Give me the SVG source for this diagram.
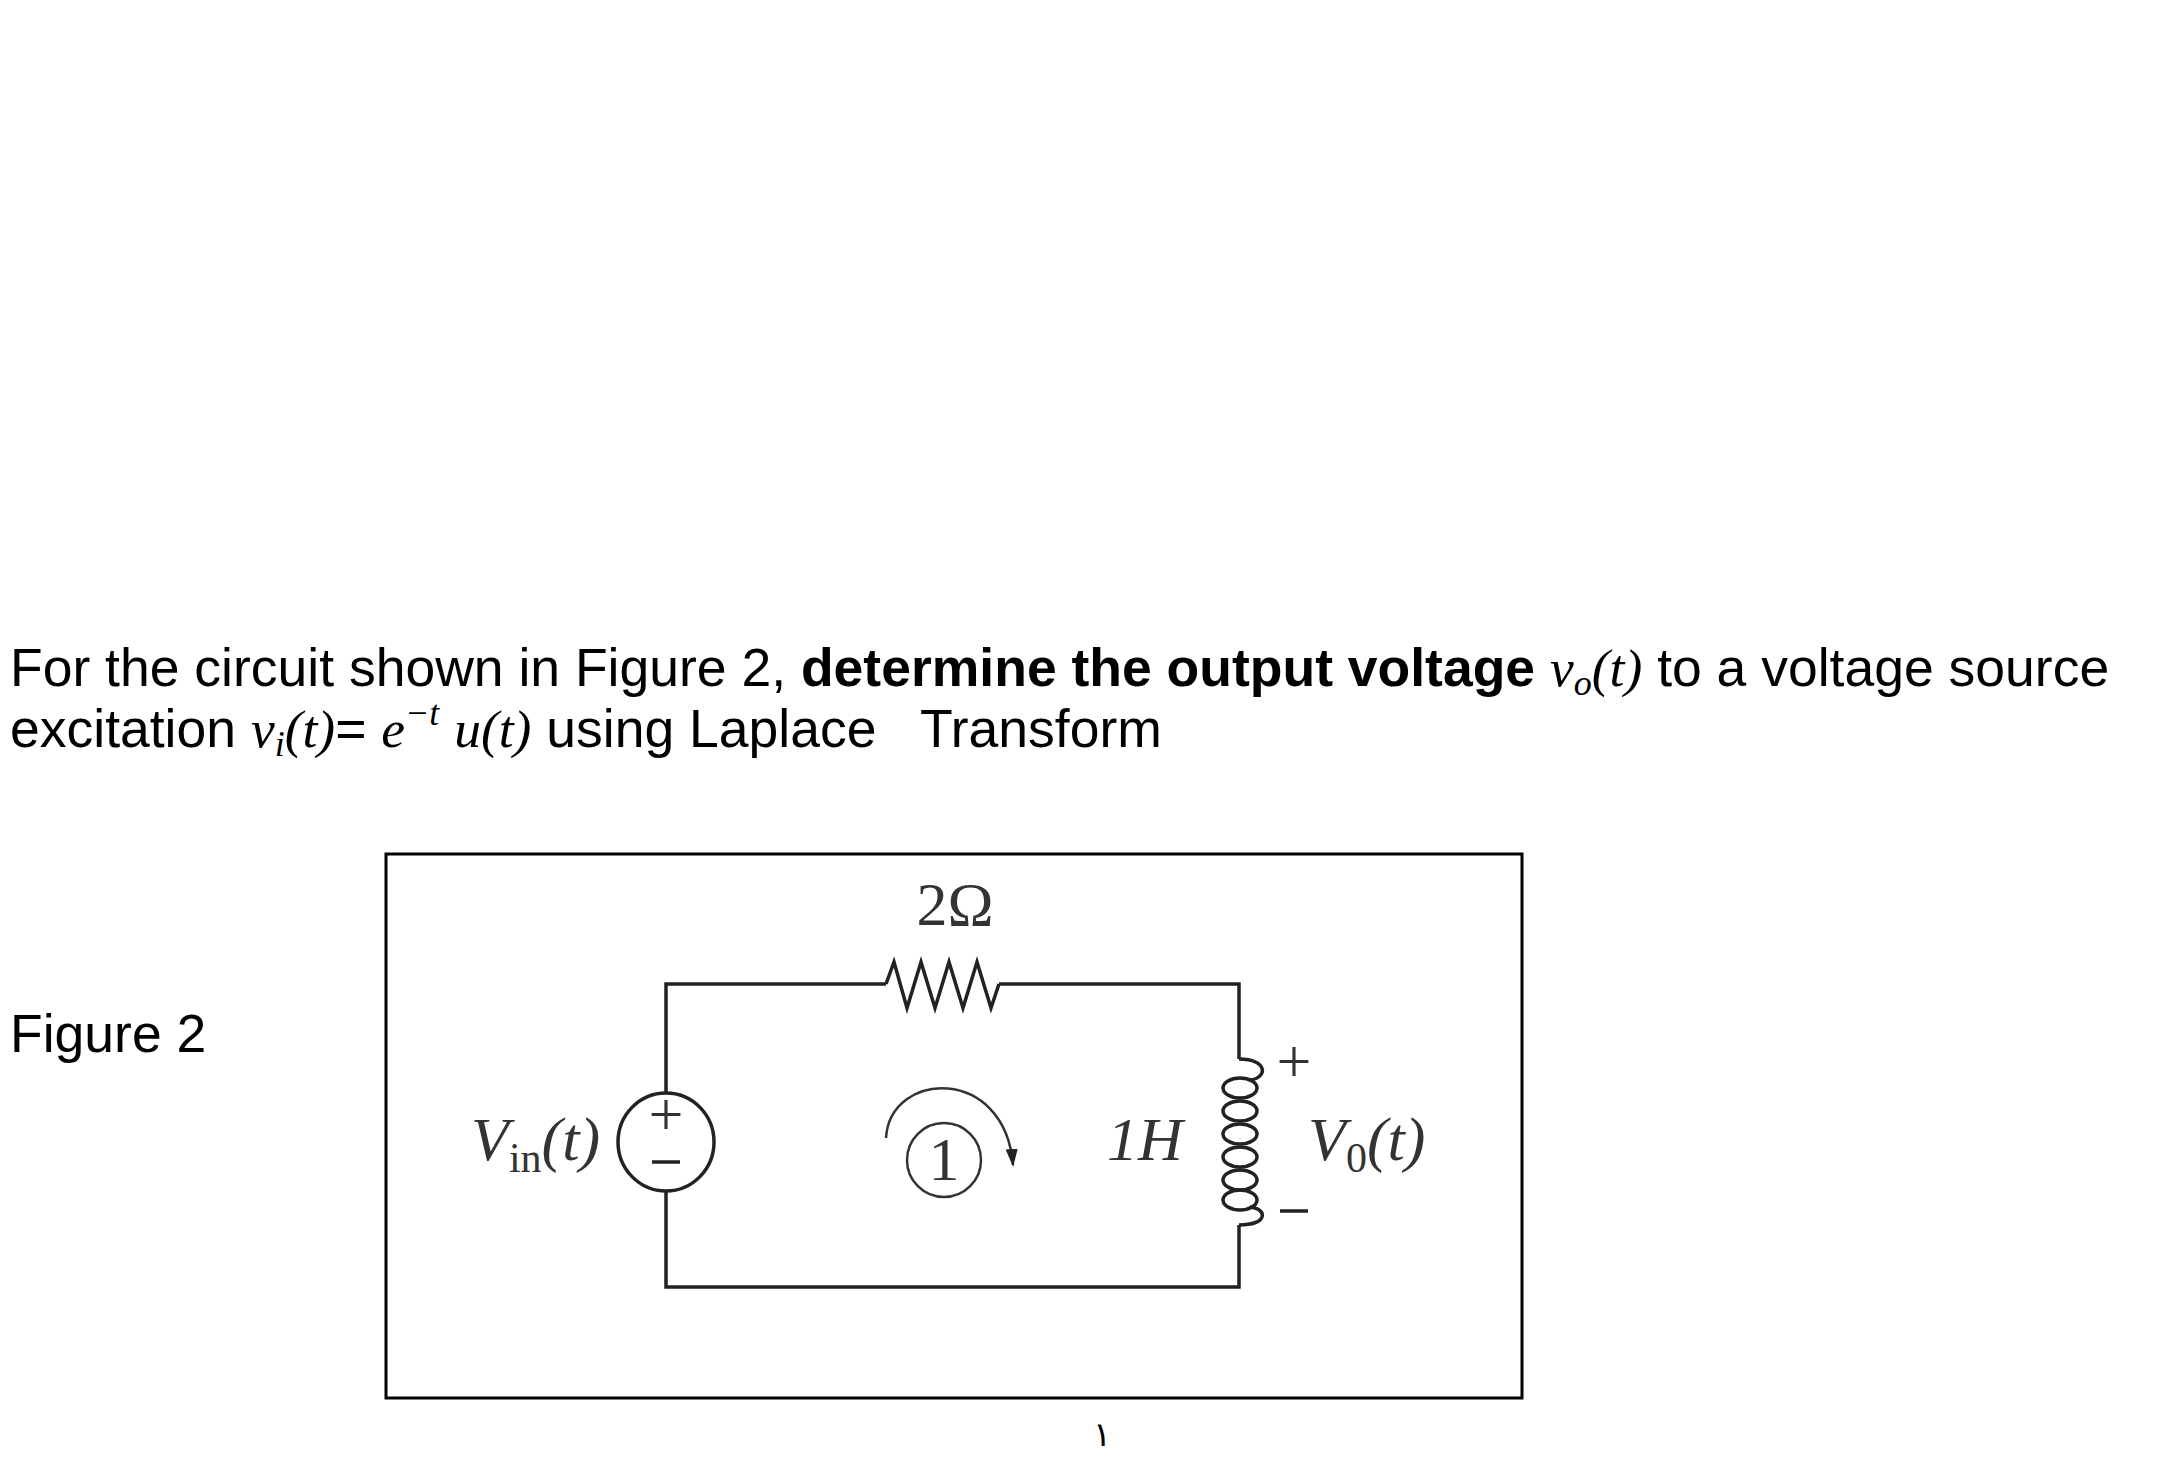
<svg xmlns="http://www.w3.org/2000/svg" width="2169" height="1482" viewBox="0 0 2169 1482">
<style>
.t{font-family:"Liberation Sans",Arial,sans-serif;font-size:53.5px;fill:#000}
.m{font-family:"Liberation Serif","Times New Roman",serif;font-style:italic}
.c{font-family:"Liberation Serif","Times New Roman",serif;font-size:62px;fill:#333}
.w{fill:none;stroke:#222;stroke-width:3.5}
</style>
<defs><marker id="ah" markerWidth="18" markerHeight="12" refX="16" refY="6" orient="auto" markerUnits="userSpaceOnUse"><path d="M0,0 L18,6 L0,12 Z" fill="#222"/></marker></defs>
<rect width="2169" height="1482" fill="#fff"/>
<text class="t" x="10" y="686">For the circuit shown in Figure 2, <tspan font-weight="bold">determine the output voltage</tspan> <tspan class="m">v<tspan font-size="36" dy="9">o</tspan><tspan dy="-9">(t)</tspan></tspan> to a voltage source</text>
<text class="t" x="10" y="747">excitation <tspan class="m">v<tspan font-size="36" dy="9">i</tspan><tspan dy="-9">(t)</tspan></tspan>= <tspan class="m">e</tspan><tspan class="m" font-size="36" dy="-22">−t</tspan> <tspan class="m" dy="22">u(t)</tspan> using Laplace &#160; Transform</text>
<text class="t" x="10" y="1052">Figure 2</text>
<rect x="386" y="854" width="1136" height="544" fill="none" stroke="#000" stroke-width="3"/>
<g id="connectors">
<path class="w" d="M666,1093 V984 H886 M999,984 H1239 V1059 M1239,1225 V1287 H666 V1191"/>
</g>
<g id="resistor"><path class="w" d="M886,984 L894,962 L907,1008 L921,962 L935,1008 L949,962 L963,1008 L977,962 L991,1008 L999,984"/>
<text class="c" x="955" y="925" text-anchor="middle">2Ω</text></g>
<g id="source"><ellipse class="w" cx="666" cy="1142" rx="48" ry="49"/>
<text class="c" x="666" y="1135" text-anchor="middle" font-size="50">+</text>
<path class="w" d="M652,1162 H680"/>
<text class="c" x="471" y="1160" font-style="italic">V<tspan font-style="normal" font-size="42" dy="12">in</tspan><tspan dy="-12">(</tspan>t)</text></g>
<g id="mesh"><circle cx="944" cy="1160" r="37" fill="none" stroke="#333" stroke-width="2.5"/>
<text class="c" x="944" y="1180" text-anchor="middle" font-size="54">1</text>
<path d="M886,1138 C890,1070 1005,1065 1013,1165" fill="none" stroke="#333" stroke-width="2.5" marker-end="url(#ah)"/></g>
<g id="inductor"><path class="w" d="M1239,1059 C1268,1059 1268,1078 1250,1080 M1250,1207 C1268,1209 1268,1225 1239,1225"/>
<g fill="none" stroke="#222" stroke-width="3.5">
<ellipse cx="1240" cy="1088" rx="17" ry="10"/><ellipse cx="1240" cy="1111" rx="17" ry="10"/><ellipse cx="1240" cy="1134" rx="17" ry="10"/><ellipse cx="1240" cy="1157" rx="17" ry="10"/><ellipse cx="1240" cy="1180" rx="17" ry="10"/><ellipse cx="1240" cy="1200" rx="17" ry="10"/></g>
<text class="c" x="1107" y="1160" font-style="italic">1H</text>
<text class="c" x="1294" y="1082" text-anchor="middle" font-size="50">+</text>
<path class="w" d="M1280,1211 H1308"/>
<text class="c" x="1308" y="1160" font-style="italic">V<tspan font-style="normal" font-size="42" dy="12">0</tspan><tspan dy="-12">(</tspan>t)</text></g>
<text x="1093" y="1446" font-family="'DejaVu Sans',sans-serif" font-size="34">١</text>
</svg>
